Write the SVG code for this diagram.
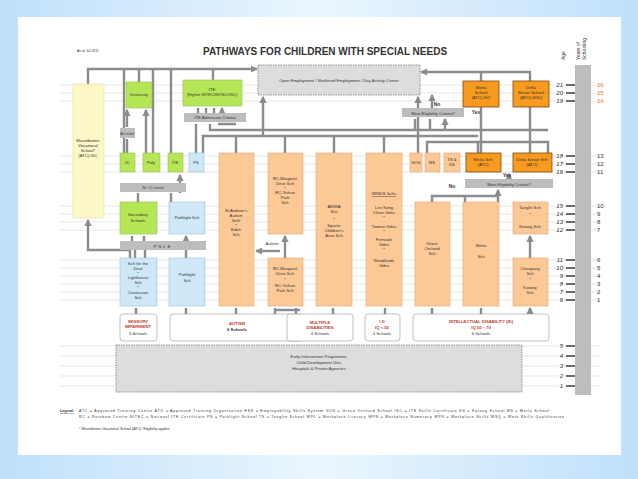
<svg xmlns="http://www.w3.org/2000/svg" width="638" height="479" viewBox="0 0 638 479">
<defs>
<linearGradient id="bg" x1="0" y1="0" x2="1" y2="0"><stop offset="0" stop-color="#bfe0fb"/><stop offset="0.5" stop-color="#eaf6fe"/><stop offset="1" stop-color="#bfe0fb"/></linearGradient>
<marker id="ar" viewBox="0 0 6 6" refX="5" refY="3" markerWidth="3" markerHeight="3" orient="auto"><path d="M0,0L6,3L0,6z" fill="#8c8c8c"/></marker>
<style>
text{font-family:"Liberation Sans",Arial,sans-serif;font-size:4.2px;fill:#333;text-anchor:middle}
.g{fill:#b5e655;stroke:#9cc05a;stroke-width:0.6}
.o{fill:#fbc896;stroke:#e0a870;stroke-width:0.6}
.d{fill:#f79a1e;stroke:#7a4a10;stroke-width:0.8}
.b{fill:#cfe8f7;stroke:#9cc4dc;stroke-width:0.6}
.y{fill:#fcf7c6;stroke:#e2dca0;stroke-width:0.6}
.gr{fill:#bdbdbd}
.c{fill:#fff;stroke:#999;stroke-width:0.6}
.row{stroke:#cfcfcf;stroke-width:0.5}
.ln{fill:none;stroke:#8c8c8c;stroke-width:2.4}
.la{fill:none;stroke:#8c8c8c;stroke-width:2.4;marker-end:url(#ar)}
.red{fill:#c0392b;font-weight:bold}
.age{font-style:italic;font-size:6px;text-anchor:end}
.yr{font-size:6px;text-anchor:start}
.lg{text-anchor:start;font-size:3.6px}
</style>
</defs>
<rect width="638" height="479" fill="url(#bg)"/>
<rect x="18" y="17" width="603" height="438" fill="#fff"/>
<g id="rows">
<line class="row" x1="60" y1="85" x2="600" y2="85"/><line class="row" x1="60" y1="93" x2="600" y2="93"/><line class="row" x1="60" y1="101" x2="600" y2="101"/>
<line class="row" x1="60" y1="156" x2="600" y2="156"/><line class="row" x1="60" y1="164" x2="600" y2="164"/><line class="row" x1="60" y1="172" x2="600" y2="172"/>
<line class="row" x1="60" y1="206" x2="600" y2="206"/><line class="row" x1="60" y1="214" x2="600" y2="214"/><line class="row" x1="60" y1="222" x2="600" y2="222"/><line class="row" x1="60" y1="230" x2="600" y2="230"/>
<line class="row" x1="60" y1="260" x2="600" y2="260"/><line class="row" x1="60" y1="268" x2="600" y2="268"/><line class="row" x1="60" y1="276" x2="600" y2="276"/><line class="row" x1="60" y1="284" x2="600" y2="284"/><line class="row" x1="60" y1="292" x2="600" y2="292"/><line class="row" x1="60" y1="300" x2="600" y2="300"/>
<line class="row" x1="60" y1="346" x2="600" y2="346"/><line class="row" x1="60" y1="356" x2="600" y2="356"/><line class="row" x1="60" y1="366" x2="600" y2="366"/><line class="row" x1="60" y1="376" x2="600" y2="376"/><line class="row" x1="60" y1="386" x2="600" y2="386"/>
</g>
<g id="scale">
<rect x="575" y="65" width="16" height="330" fill="#bdbdbd"/>
<text x="565" y="60" transform="rotate(-90 565 60)" style="font-size:5px;text-anchor:start">Age</text>
<text x="580" y="60" transform="rotate(-90 580 60)" style="font-size:5px;text-anchor:start">Years of</text>
<text x="586" y="60" transform="rotate(-90 586 60)" style="font-size:5px;text-anchor:start">Schooling</text>
<g stroke="#222" stroke-width="1.3">
<line x1="566" y1="85" x2="575" y2="85"/><line x1="566" y1="93" x2="575" y2="93"/><line x1="566" y1="101" x2="575" y2="101"/>
<line x1="566" y1="156" x2="575" y2="156"/><line x1="566" y1="164" x2="575" y2="164"/><line x1="566" y1="172" x2="575" y2="172"/>
<line x1="566" y1="206" x2="575" y2="206"/><line x1="566" y1="214" x2="575" y2="214"/><line x1="566" y1="222" x2="575" y2="222"/><line x1="566" y1="230" x2="575" y2="230"/>
<line x1="566" y1="260" x2="575" y2="260"/><line x1="566" y1="268" x2="575" y2="268"/><line x1="566" y1="276" x2="575" y2="276"/><line x1="566" y1="284" x2="575" y2="284"/><line x1="566" y1="292" x2="575" y2="292"/><line x1="566" y1="300" x2="575" y2="300"/>
<line x1="566" y1="346" x2="575" y2="346"/><line x1="566" y1="356" x2="575" y2="356"/><line x1="566" y1="366" x2="575" y2="366"/><line x1="566" y1="376" x2="575" y2="376"/><line x1="566" y1="386" x2="575" y2="386"/>
</g>
<text class="age" x="563" y="87">21</text><text class="age" x="563" y="95">20</text><text class="age" x="563" y="103">19</text>
<text class="age" x="563" y="158">18</text><text class="age" x="563" y="166">17</text><text class="age" x="563" y="174">16</text>
<text class="age" x="563" y="208">15</text><text class="age" x="563" y="216">14</text><text class="age" x="563" y="224">13</text><text class="age" x="563" y="232">12</text>
<text class="age" x="563" y="262">11</text><text class="age" x="563" y="270">10</text><text class="age" x="563" y="278">9</text><text class="age" x="563" y="286">8</text><text class="age" x="563" y="294">7</text><text class="age" x="563" y="302">6</text>
<text class="age" x="563" y="348">5</text><text class="age" x="563" y="358">4</text><text class="age" x="563" y="368">3</text><text class="age" x="563" y="378">2</text><text class="age" x="563" y="388">1</text>
<text class="yr" x="597" y="87" style="fill:#e08020">16</text><text class="yr" x="597" y="95" style="fill:#e08020">15</text><text class="yr" x="597" y="103" style="fill:#e08020">14</text>
<text class="yr" x="597" y="158">13</text><text class="yr" x="597" y="166">12</text><text class="yr" x="597" y="174">11</text>
<text class="yr" x="597" y="208">10</text><text class="yr" x="597" y="216">9</text><text class="yr" x="597" y="224">8</text><text class="yr" x="597" y="232">7</text>
<text class="yr" x="597" y="262">6</text><text class="yr" x="597" y="270">5</text><text class="yr" x="597" y="278">4</text><text class="yr" x="597" y="286">3</text><text class="yr" x="597" y="294">2</text><text class="yr" x="597" y="302">1</text>
</g>
<text x="88" y="52" style="font-size:3.5px">As at Jul 2011</text>
<text x="325" y="55" style="font-size:10px;font-weight:bold;fill:#333">PATHWAYS FOR CHILDREN WITH SPECIAL NEEDS</text>
<g id="connectors">
<path class="la" d="M88,84V69H257"/>
<path class="ln" d="M124,153V69M139,82V69M153,153V69M171,153V69M213,80V69"/>
<path class="la" d="M127,153V139M127,127V110"/><path class="la" d="M146,153V110"/>
<path class="la" d="M198,113V108M206,113V108M214,113V108M222,113V108"/>
<path class="ln" d="M196,153V124M203,153V136H478M210,124V130H548M218,124H236"/>
<path class="ln" d="M236,153V136M285,153V136M334,153V136M384,153V136"/>
<path class="la" d="M530,81V72H421"/><path class="ln" d="M481,81V72"/>
<path class="la" d="M432,108V95"/><path class="la" d="M263,136V97"/><path class="la" d="M418,153V97"/>
<path class="la" d="M415,130V119M430,130V119M445,130V119"/>
<path class="ln" d="M481,153V107M530,153V107M427,153V142H478V153M468,142H548V153"/>
<path class="la" d="M509,179V174"/>
<path class="la" d="M138,202V193M171,202V193M180,193V191M180,183V175"/>
<path class="la" d="M132,250V236M144,250V236M186,241V236"/>
<path class="ln" d="M135,258V250M145,258V250M186,258V250"/>
<path class="la" d="M130,258V250H88V220"/>
<path class="la" d="M285,258V236"/><path class="la" d="M280,251H256"/>
<path class="ln" d="M432,202V196H498V202M465,202V196"/><path class="la" d="M498,196V190"/>
<path class="la" d="M530,258V236"/>
<path class="la" d="M136,314V308M186,314V308M236,314V308M275,314V308M296,314V308M333,314V308M385,314V308M432,314V308M481,314V308M530,314V308"/>
<path class="ln" d="M275,310H300"/>
</g>
<g id="open-employment"><rect x="258" y="65" width="162" height="30" fill="#ddd" stroke="#555" stroke-width="0.6" stroke-dasharray="1.5,1"/><text x="339" y="82">Open Employment / Sheltered Employment / Day Activity Centre</text></g>
<g id="mountbatten"><rect class="y" x="73" y="84" width="31" height="134"/><text x="88" y="142">Mountbatten</text><text x="88" y="147">Vocational</text><text x="88" y="152">School*</text><text x="88" y="157">(ATC)-ISC</text></g>
<g id="university"><rect class="g" x="126" y="82" width="26" height="26"/><text x="139" y="96">University</text></g>
<g id="ite-higher"><rect class="g" x="183" y="80" width="59" height="26"/><text x="212" y="91">ITE</text><text x="212" y="96">(Higher NITEC/NITEC/ISC)</text></g>
<g id="ite-adm"><rect class="gr" x="184" y="113" width="62" height="9"/><text x="215" y="119">ITE Admission Criteria</text></g>
<g id="alevel"><rect class="gr" x="120" y="128" width="15" height="10"/><text x="127" y="134.5">A Level</text></g>
<g id="jc"><rect class="g" x="120" y="153" width="15" height="19"/><text x="127" y="164">JC</text></g>
<g id="poly"><rect class="g" x="143" y="153" width="17" height="19"/><text x="151" y="164">Poly</text></g>
<g id="ite"><rect class="g" x="168" y="153" width="15" height="19"/><text x="175" y="164">ITE</text></g>
<g id="ps"><rect class="b" x="189" y="153" width="15" height="19"/><text x="196" y="164">PS</text></g>
<g id="nolevel"><rect class="gr" x="120" y="183" width="66" height="9"/><text x="153" y="189">N / O Level</text></g>
<g id="secondary"><rect class="g" x="120" y="202" width="37" height="32"/><text x="138" y="216">Secondary</text><text x="138" y="222">Schools</text></g>
<g id="pathlight-sec"><rect class="b" x="169" y="202" width="36" height="32"/><text x="187" y="219">Pathlight Sch</text></g>
<g id="psle"><rect class="gr" x="120" y="241" width="86" height="9"/><text x="163" y="247.5" style="letter-spacing:2px">PSLE</text></g>
<g id="deaf"><rect class="b" x="120" y="258" width="37" height="48"/><text x="138" y="265">Sch for the</text><text x="138" y="270">Deaf</text><text x="138" y="274">•</text><text x="138" y="279">Lighthouse</text><text x="138" y="284">Sch</text><text x="138" y="288">•</text><text x="138" y="294">Canossian</text><text x="138" y="299">Sch</text></g>
<g id="pathlight-pri"><rect class="b" x="169" y="258" width="36" height="48"/><text x="187" y="276">Pathlight</text><text x="187" y="282">Sch</text></g>
<g id="st-andrews"><rect class="o" x="219" y="153" width="35" height="153"/><text x="236" y="212">St Andrew's</text><text x="236" y="217">Autism</text><text x="236" y="222">Schl</text><text x="236" y="226">•</text><text x="236" y="231">Eden</text><text x="236" y="236">Sch</text></g>
<g id="rc-top"><rect class="o" x="268" y="153" width="35" height="81"/><text x="285" y="180">RC-Margaret</text><text x="285" y="185">Drive Sch</text><text x="285" y="189">•</text><text x="285" y="194">RC-Yishun</text><text x="285" y="199">Park</text><text x="285" y="204">Sch</text></g>
<text x="272" y="245">Autism</text>
<g id="rc-bot"><rect class="o" x="268" y="258" width="35" height="48"/><text x="285" y="270">RC-Margaret</text><text x="285" y="275">Drive Sch</text><text x="285" y="280">•</text><text x="285" y="287">RC-Yishun</text><text x="285" y="292">Park Sch</text></g>
<g id="awwa"><rect class="o" x="316" y="153" width="36" height="153"/><text x="334" y="208">AWWA</text><text x="334" y="213">Sch</text><text x="334" y="220">•</text><text x="334" y="227">Spastic</text><text x="334" y="232">Children's</text><text x="334" y="237">Assn Sch</text></g>
<g id="minds"><rect class="o" x="366" y="153" width="36" height="153"/><text x="384" y="195" style="text-decoration:underline">MINDS Schs</text><text x="384" y="209">Lee Kong</text><text x="384" y="214">Chian Gdns</text><text x="384" y="218">•</text><text x="384" y="228">Towner Gdns</text><text x="384" y="232">•</text><text x="384" y="241">Fernvale</text><text x="384" y="246">Gdns</text><text x="384" y="250">•</text><text x="384" y="262">Woodlands</text><text x="384" y="267">Gdns</text></g>
<g id="gos"><rect class="o" x="410" y="153" width="12" height="19"/><text x="416" y="164">GOS</text></g>
<g id="ms"><rect class="o" x="425" y="153" width="15" height="19"/><text x="432" y="164">MS</text></g>
<g id="tsks"><rect class="o" x="444" y="153" width="16" height="19"/><text x="452" y="161">TS &amp;</text><text x="452" y="166">KS</text></g>
<g id="metta-atc"><rect class="d" x="466" y="153" width="35" height="19"/><text x="483" y="161">Metta Sch</text><text x="483" y="166">(ATC)</text></g>
<g id="delta-atc"><rect class="d" x="513" y="153" width="39" height="19"/><text x="532" y="161">Delta Senior Sch</text><text x="532" y="166">(ATO)</text></g>
<g id="mec-bot"><rect class="gr" x="465" y="179" width="88" height="9"/><text x="509" y="185.5">Meet Eligibility Criteria?</text></g>
<text x="507" y="177" style="font-size:5px;font-weight:bold">Yes</text><text x="452" y="188" style="font-size:5px;font-weight:bold">No</text>
<g id="metta-school"><rect class="d" x="463" y="81" width="36" height="26"/><text x="481" y="89">Metta</text><text x="481" y="94">School</text><text x="481" y="99">(ATC)-ISC</text></g>
<g id="delta-school"><rect class="d" x="513" y="81" width="36" height="26"/><text x="531" y="89">Delta</text><text x="531" y="94">Senior School</text><text x="531" y="99">(ATO)-WSQ</text></g>
<g id="mec-top"><rect class="gr" x="402" y="108" width="62" height="9"/><text x="433" y="114.5">Meet Eligibility Criteria?</text></g>
<text x="437" y="106" style="font-size:5px;font-weight:bold">No</text><text x="476" y="114" style="font-size:5px;font-weight:bold">Yes</text>
<g id="grace"><rect class="o" x="415" y="202" width="35" height="104"/><text x="432" y="245">Grace</text><text x="432" y="250">Orchard</text><text x="432" y="255">Sch</text></g>
<g id="metta-pri"><rect class="o" x="463" y="202" width="36" height="104"/><text x="481" y="247">Metta</text><text x="481" y="258">Sch</text></g>
<g id="tanglin"><rect class="o" x="513" y="202" width="35" height="32"/><text x="530" y="209">Tanglin Sch</text><text x="530" y="215">•</text><text x="530" y="228">Katong Sch</text></g>
<g id="chaoyang"><rect class="o" x="513" y="258" width="35" height="48"/><text x="530" y="270">Chaoyang</text><text x="530" y="275">Sch</text><text x="530" y="280">•</text><text x="530" y="289">Katong</text><text x="530" y="294">Sch</text></g>
<g id="cat-sensory"><rect class="c" x="120" y="314" width="37" height="27" rx="3"/><text class="red" x="138" y="323">SENSORY</text><text class="red" x="138" y="328">IMPAIRMENT</text><text x="138" y="335">3 Schools</text></g>
<g id="cat-autism"><rect class="c" x="170" y="314" width="134" height="27" rx="3"/><text class="red" x="237" y="325">AUTISM</text><text x="237" y="331" style="font-weight:bold">6 Schools</text></g>
<g id="cat-multiple"><rect class="c" x="287" y="314" width="66" height="27" rx="3"/><text class="red" x="320" y="324">MULTIPLE</text><text class="red" x="320" y="329">DISABILITIES</text><text x="320" y="335">4 Schools</text></g>
<g id="cat-id50"><rect class="c" x="365" y="314" width="35" height="27" rx="3"/><text class="red" x="382" y="323">I D</text><text class="red" x="382" y="329">IQ &lt; 50</text><text x="382" y="335">4 Schools</text></g>
<g id="cat-id"><rect class="c" x="413" y="314" width="136" height="27" rx="3"/><text class="red" x="481" y="323">INTELLECTUAL DISABILITY (ID)</text><text class="red" x="481" y="329">IQ 50 – 70</text><text x="481" y="335">6 Schools</text></g>
<g id="early"><rect x="116" y="345" width="406" height="47" fill="#ddd" stroke="#555" stroke-width="0.6" stroke-dasharray="1.5,1"/><text x="319" y="358">Early Intervention Programme,</text><text x="319" y="364">Child Development Unit,</text><text x="319" y="370">Hospitals &amp; Private Agencies</text></g>
<g id="legend">
<text class="lg" x="60" y="412" style="text-decoration:underline;font-weight:bold">Legend:</text>
<text class="lg" x="79" y="412" textLength="470">ATC = Approved Training Centre   ATO = Approved Training Organisation   ESS = Employability Skills System   GOS = Grace Orchard School   ISC = ITE Skills Certificate   KS = Katong School   MS = Metta School</text>
<text class="lg" x="79" y="418" textLength="485">RC = Rainbow Centre   NITEC = National ITE Certificate   PS = Pathlight School   TS = Tanglin School   WPL = Workplace Literacy   WPN = Workplace Numeracy   WPS = Workplace Skills   WSQ = Work Skills Qualification</text>
<text class="lg" x="79" y="430">* Mountbatten Vocational School (ATC): Eligibility applies</text>
</g>
</svg>
